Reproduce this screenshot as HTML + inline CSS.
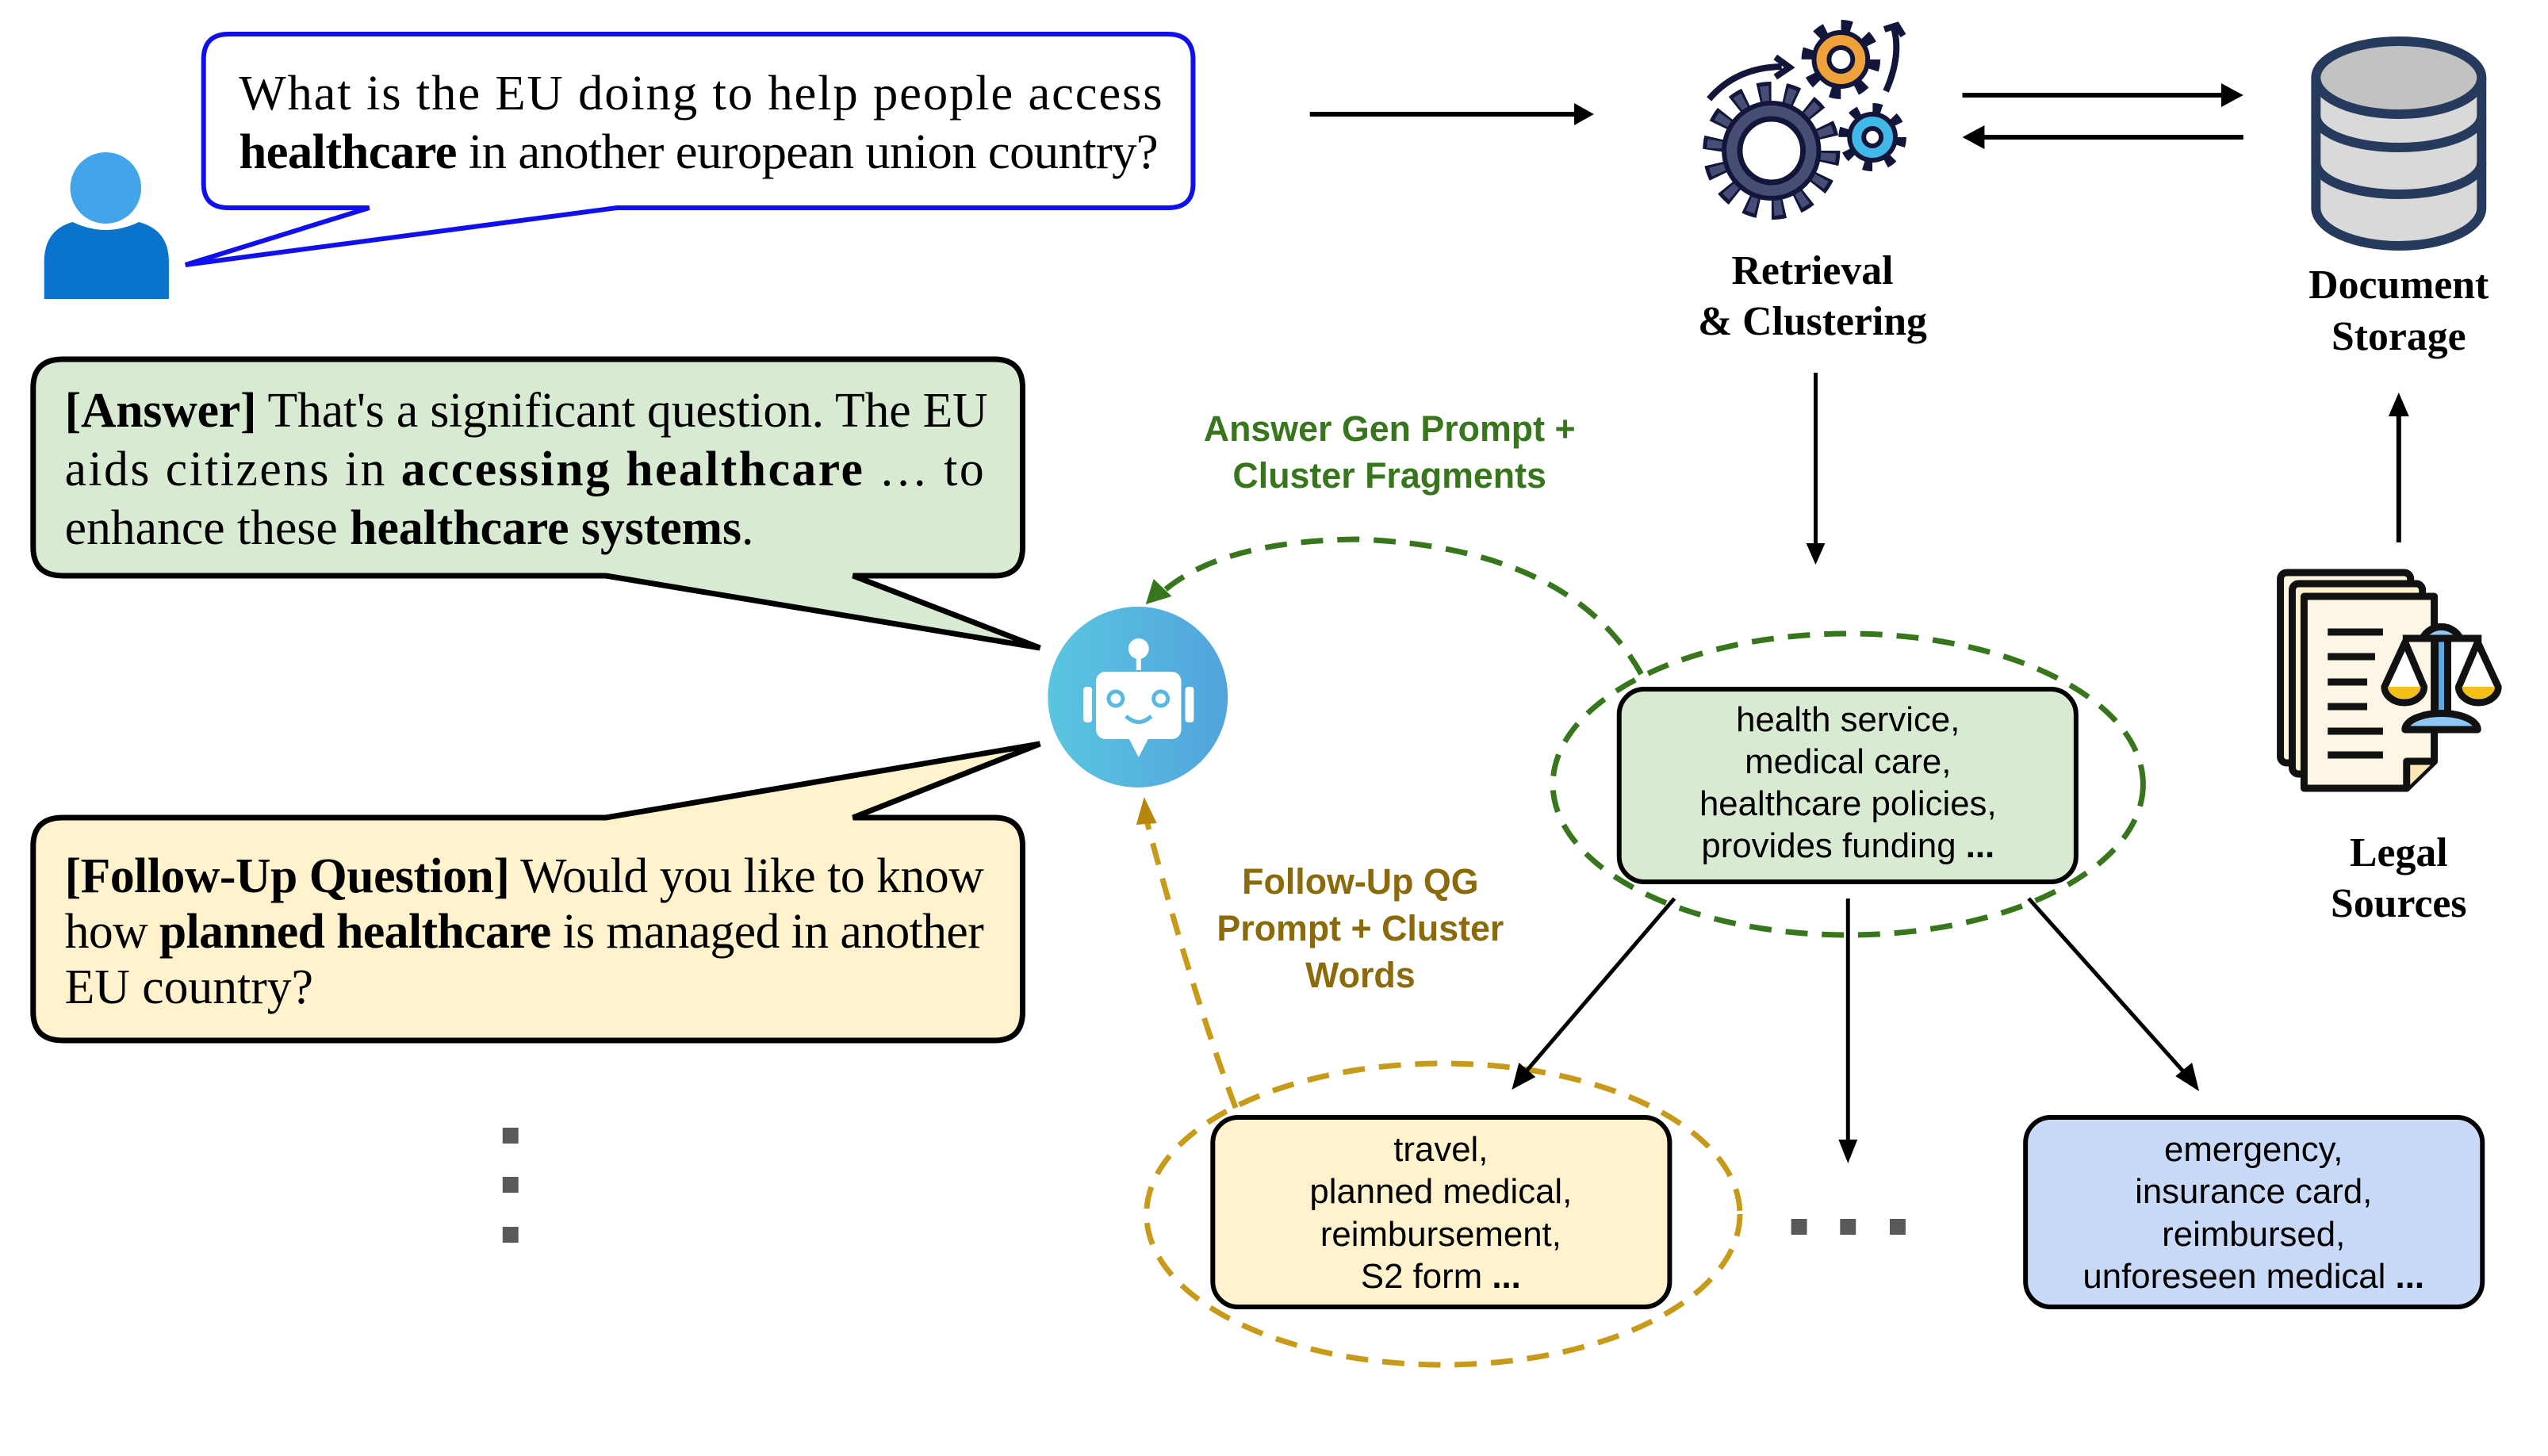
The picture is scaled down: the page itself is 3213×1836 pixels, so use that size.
<!DOCTYPE html>
<html><head><meta charset="utf-8"><style>html,body{margin:0;padding:0;background:#fff}svg{display:block}</style></head>
<body>
<svg width="3213" height="1836" viewBox="0 0 3213 1836" xmlns="http://www.w3.org/2000/svg">
<defs>
<linearGradient id="rg" x1="0" x2="1" y1="0" y2="0"><stop offset="0" stop-color="#5ac6e0"/><stop offset="1" stop-color="#51a4dc"/></linearGradient>
</defs>
<g transform="scale(0.995,1)">
<!-- person -->
<circle cx="134" cy="237" r="45" fill="#42a5ea"/>
<path d="M56,377 L56,330 Q56,290 92,280 Q134,300 176,280 Q214,290 214,330 L214,377 Z" fill="#0a74cc"/>
<!-- question bubble -->
<path d="M290,43 L1480,43 Q1512,43 1512,75 L1512,232 Q1512,262 1480,262 L782,262 L235,334 L468,262 L290,262 Q258,262 258,232 L258,75 Q258,43 290,43 Z" fill="#fff" stroke="#1010ee" stroke-width="6"/>
<g font-family="Liberation Serif, serif" font-size="63" fill="#000">
<text x="303" y="138" textLength="1170" lengthAdjust="spacing">What is the EU doing to help people access</text>
<text x="303" y="212" textLength="1165" lengthAdjust="spacing"><tspan font-weight="bold">healthcare</tspan> in another european union country?</text>
</g>
<!-- answer bubble -->
<path d="M80,453 L1260,453 Q1296,453 1296,489 L1296,690 Q1296,726 1260,726 L1081,726 L1318,817 L768,726 L80,726 Q42,726 42,690 L42,489 Q42,453 80,453 Z" fill="#d9ead3" stroke="#000" stroke-width="7"/>
<g font-family="Liberation Serif, serif" font-size="62" fill="#000">
<text x="82" y="538" textLength="1170" lengthAdjust="spacing"><tspan font-weight="bold">[Answer]</tspan> That's a significant question. The EU</text>
<text x="82" y="612" textLength="1165" lengthAdjust="spacing">aids citizens in <tspan font-weight="bold">accessing healthcare</tspan> … to</text>
<text x="82" y="686">enhance these <tspan font-weight="bold">healthcare systems</tspan>.</text>
</g>
<!-- follow-up bubble -->
<path d="M80,1031 L768,1031 L1318,938 L1081,1031 L1260,1031 Q1296,1031 1296,1067 L1296,1276 Q1296,1312 1260,1312 L80,1312 Q42,1312 42,1276 L42,1067 Q42,1031 80,1031 Z" fill="#fff2cc" stroke="#000" stroke-width="7"/>
<g font-family="Liberation Serif, serif" font-size="62" fill="#000">
<text x="82" y="1125" textLength="1165" lengthAdjust="spacing"><tspan font-weight="bold">[Follow-Up Question]</tspan> Would you like to know</text>
<text x="82" y="1195" textLength="1165" lengthAdjust="spacing">how <tspan font-weight="bold">planned healthcare</tspan> is managed in another</text>
<text x="82" y="1265">EU country?</text>
</g>
<!-- dots -->
<g fill="#595959"><rect x="637" y="1422" width="20" height="20"/><rect x="637" y="1484" width="20" height="20"/><rect x="637" y="1547" width="20" height="20"/>
<rect x="2270" y="1537" width="20" height="20"/><rect x="2332" y="1537" width="20" height="20"/><rect x="2395" y="1537" width="20" height="20"/></g>
<!-- robot -->
<circle cx="1442" cy="879" r="114" fill="url(#rg)"/>
<g fill="#fff">
<circle cx="1443" cy="818" r="13"/><rect x="1440" y="825" width="6" height="20"/>
<rect x="1389" y="847" width="108" height="85" rx="12"/>
<rect x="1373" y="866" width="11" height="45" rx="4"/><rect x="1502" y="866" width="11" height="45" rx="4"/>
<path d="M1430,930 L1443,955 L1456,930 Z"/>
</g>
<g fill="none" stroke="#5ab8e0" stroke-width="5"><circle cx="1414" cy="881" r="9"/><circle cx="1471" cy="881" r="9"/><path d="M1427,903 Q1443,918 1459,903"/></g>
<!-- top arrow -->
<line x1="1660" y1="144" x2="2000" y2="144" stroke="#000" stroke-width="6"/><path d="M1995,130 L2020,144 L1995,158 Z"/>
<!-- gears -->
<circle cx="2245" cy="190" r="72" fill="none" stroke="#12163a" stroke-width="30" stroke-dasharray="16 16.3"/>
<circle cx="2245" cy="190" r="72" fill="none" stroke="#474d75" stroke-width="20" stroke-dasharray="10 22.3" stroke-dashoffset="-3"/>
<circle cx="2245" cy="190" r="60" fill="#474d75" stroke="#12163a" stroke-width="6"/>
<circle cx="2245" cy="190" r="40" fill="#fff" stroke="#12163a" stroke-width="7"/>
<circle cx="2333" cy="75" r="40" fill="none" stroke="#12163a" stroke-width="20" stroke-dasharray="12.5 18.9"/>
<circle cx="2333" cy="75" r="34" fill="#f0a23a" stroke="#12163a" stroke-width="6"/>
<circle cx="2333" cy="75" r="15" fill="#fff" stroke="#12163a" stroke-width="6"/>
<circle cx="2373" cy="173" r="34" fill="none" stroke="#12163a" stroke-width="18" stroke-dasharray="10.5 16.2"/>
<circle cx="2373" cy="173" r="29" fill="#42b8e8" stroke="#12163a" stroke-width="6"/>
<circle cx="2373" cy="173" r="11" fill="#fff" stroke="#12163a" stroke-width="6"/>
<path d="M2166,125 Q2200,85 2258,84" fill="none" stroke="#12163a" stroke-width="8"/><path d="M2250,72 L2268,85 L2250,97" fill="none" stroke="#12163a" stroke-width="8"/>
<path d="M2390,115 Q2410,70 2400,35" fill="none" stroke="#12163a" stroke-width="8"/><path d="M2388,37 L2404,32 L2412,45" fill="none" stroke="#12163a" stroke-width="8"/>
<g font-family="Liberation Serif, serif" font-size="52" font-weight="bold" text-anchor="middle" fill="#000">
<text x="2297" y="358">Retrieval</text><text x="2297" y="422">&amp; Clustering</text>
<text x="3040" y="376">Document</text><text x="3040" y="441">Storage</text>
<text x="3040" y="1092">Legal</text><text x="3040" y="1156">Sources</text>
</g>
<!-- db arrows -->
<line x1="2487" y1="120" x2="2820" y2="120" stroke="#000" stroke-width="6"/><path d="M2815,105 L2843,120 L2815,135 Z"/>
<line x1="2843" y1="173" x2="2510" y2="173" stroke="#000" stroke-width="6"/><path d="M2515,158 L2487,173 L2515,188 Z"/>
<!-- DB -->
<path d="M2935,98 L2935,262 A105,48 0 0 0 3145,262 L3145,98" fill="#d9d9d9" stroke="#263a5e" stroke-width="12"/>
<path d="M2935,146 A105,40 0 0 0 3145,146 M2935,205 A105,40 0 0 0 3145,205" fill="none" stroke="#263a5e" stroke-width="12"/>
<ellipse cx="3040" cy="98" rx="105" ry="46" fill="#c2c2c2" stroke="#263a5e" stroke-width="12"/>
<!-- up arrow -->
<line x1="3040" y1="684" x2="3040" y2="520" stroke="#000" stroke-width="6"/><path d="M3027,525 L3040,495 L3053,525 Z"/>
<!-- legal icon -->
<g stroke="#111" stroke-width="9" stroke-linejoin="round">
<rect x="2890" y="722" width="165" height="240" rx="8" fill="#fff6e0"/>
<rect x="2905" y="736" width="165" height="240" rx="8" fill="#fff2cc"/>
<path d="M2920,752 L3085,752 L3085,960 L3050,994 L2920,994 Z" fill="#fdf6e6"/>
<path d="M3050,994 L3050,960 L3085,960" fill="#fbe6b4"/>
<path d="M2950,797 L3020,797 M2950,828 L3010,828 M2950,860 L3000,860 M2950,891 L3000,891 M2950,922 L3020,922 M2950,952 L3020,952" fill="none"/>
<path d="M3070,805 A27,27 0 0 1 3118,805 Z" fill="#90c8f5"/>
<rect x="3086" y="805" width="16" height="100" fill="#5aa8ee"/>
<path d="M3045,805 L3145,805" fill="none"/>
<path d="M3048,810 L3022,866 A25,20 0 0 0 3072,866 Z" fill="#fff"/>
<path d="M3140,810 L3116,866 A25,20 0 0 0 3166,866 Z" fill="#fff"/>
<path d="M3048,920 A45,20 0 0 1 3140,920 Z" fill="#90c8f5"/>
</g>
<path d="M3026,866 L3068,866 A21,15 0 0 1 3026,866 Z M3120,866 L3162,866 A21,15 0 0 1 3120,866 Z" fill="#f5c010"/>
<!-- down arrow -->
<line x1="2301" y1="470" x2="2301" y2="690" stroke="#000" stroke-width="5"/><path d="M2289,685 L2301,712 L2313,685 Z"/>
<!-- green label / arc -->
<g font-family="Liberation Sans, sans-serif" font-size="45" font-weight="bold" text-anchor="middle" fill="#38761d">
<text x="1761" y="556">Answer Gen Prompt +</text><text x="1761" y="615">Cluster Fragments</text></g>
<path d="M2080,850 Q1990,690 1720,680 Q1550,682 1475,745" fill="none" stroke="#38761d" stroke-width="7" stroke-dasharray="28 18"/>
<path d="M1462,730 L1452,762 L1485,752 Z" fill="#38761d"/>
<ellipse cx="2342" cy="989" rx="374" ry="190" fill="none" stroke="#38761d" stroke-width="7" stroke-dasharray="28 18"/>
<!-- yellow ellipse -->
<ellipse cx="1829" cy="1531" rx="376" ry="190" fill="none" stroke="#c79a1a" stroke-width="7" stroke-dasharray="28 18"/>
<path d="M1566,1397 Q1510,1250 1452,1030" fill="none" stroke="#c79a1a" stroke-width="7" stroke-dasharray="28 18"/>
<path d="M1440,1040 L1450,1005 L1466,1038 Z" fill="#b8860b"/>
<g font-family="Liberation Sans, sans-serif" font-size="45" font-weight="bold" text-anchor="middle" fill="#8a6a0a">
<text x="1724" y="1127">Follow-Up QG</text><text x="1724" y="1186">Prompt + Cluster</text><text x="1724" y="1245">Words</text></g>
<!-- boxes -->
<rect x="2052" y="869" width="579" height="243" rx="32" fill="#d9ead3" stroke="#000" stroke-width="6"/>
<rect x="1537" y="1409" width="579" height="239" rx="32" fill="#fff2cc" stroke="#000" stroke-width="6"/>
<rect x="2567" y="1409" width="579" height="239" rx="32" fill="#c9daf8" stroke="#000" stroke-width="6"/>
<g font-family="Liberation Sans, sans-serif" font-size="44" text-anchor="middle" fill="#000">
<text x="2342" y="922">health service,</text><text x="2342" y="975">medical care,</text><text x="2342" y="1028">healthcare policies,</text><text x="2342" y="1081">provides funding <tspan font-weight="bold">...</tspan></text>
<text x="1826" y="1464">travel,</text><text x="1826" y="1517">planned medical,</text><text x="1826" y="1571">reimbursement,</text><text x="1826" y="1624">S2 form <tspan font-weight="bold">...</tspan></text>
<text x="2856" y="1464">emergency,</text><text x="2856" y="1517">insurance card,</text><text x="2856" y="1571">reimbursed,</text><text x="2856" y="1624">unforeseen medical <tspan font-weight="bold">...</tspan></text>
</g>
<!-- tree arrows -->
<g stroke="#000" stroke-width="5"><line x1="2122" y1="1133" x2="1928" y2="1358"/><line x1="2342" y1="1133" x2="2342" y2="1440"/><line x1="2571" y1="1133" x2="2775" y2="1360"/></g>
<path d="M1916,1374 L1925,1340 L1946,1358 Z"/>
<path d="M2330,1437 L2342,1467 L2354,1437 Z"/>
<path d="M2787,1376 L2757,1357 L2778,1340 Z"/>
</g>
</svg>
</body></html>
